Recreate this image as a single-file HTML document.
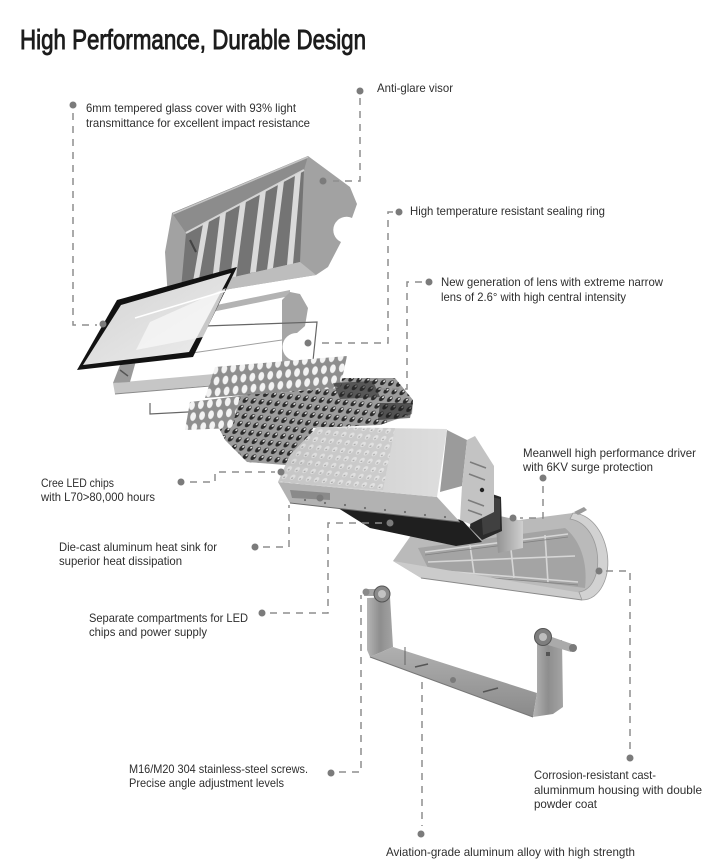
<!DOCTYPE html>
<html><head><meta charset="utf-8"><style>
html,body{margin:0;padding:0;background:#fff;}
svg{display:block;}
.t{font-family:"Liberation Sans",sans-serif;fill:#2e2e2e;font-size:12px;}
</style></head><body>
<svg width="714" height="864" viewBox="0 0 714 864" xmlns="http://www.w3.org/2000/svg">
<defs>
 <pattern id="ovals" width="9" height="11" patternUnits="userSpaceOnUse" patternTransform="rotate(-6)">
   <rect width="9" height="11" fill="#8e8e8e"/>
   <ellipse cx="4.5" cy="5.5" rx="2.8" ry="4.4" fill="#f3f3f3" transform="rotate(20 4.5 5.5)"/>
 </pattern>
 <pattern id="leds" width="8" height="8" patternUnits="userSpaceOnUse" patternTransform="rotate(6) skewX(-25)">
   <rect width="8" height="8" fill="#9c9c9c"/>
   <ellipse cx="3.5" cy="4.2" rx="2.4" ry="3" fill="#2a2a2a"/>
   <ellipse cx="4" cy="3" rx="1" ry="1.1" fill="#e6e6e6"/>
 </pattern>
 <pattern id="clear" width="8" height="8" patternUnits="userSpaceOnUse" patternTransform="rotate(6) skewX(-25)">
   <rect width="8" height="8" fill="#c4c4c4"/>
   <ellipse cx="4" cy="4" rx="2.3" ry="2.8" fill="#ececec"/>
   <circle cx="4" cy="5" r="0.9" fill="#8a8a8a"/>
 </pattern>
 <linearGradient id="glassG" x1="0" y1="0" x2="1" y2="1">
   <stop offset="0" stop-color="#d2d2d2"/><stop offset="1" stop-color="#eeeeee"/>
 </linearGradient>
 <linearGradient id="pcbG" x1="0" y1="0" x2="1" y2="0">
   <stop offset="0" stop-color="#c6c6c6"/><stop offset="1" stop-color="#dcdcdc"/>
 </linearGradient>
 <linearGradient id="armG" x1="0" y1="0" x2="1" y2="0">
   <stop offset="0" stop-color="#b5b5b5"/><stop offset="0.5" stop-color="#8e8e8e"/><stop offset="1" stop-color="#a4a4a4"/>
 </linearGradient>
 <linearGradient id="barG" x1="0" y1="0" x2="0" y2="1">
   <stop offset="0" stop-color="#b0b0b0"/><stop offset="1" stop-color="#8a8a8a"/>
 </linearGradient>
 <linearGradient id="cylG" x1="0" y1="0" x2="1" y2="0">
   <stop offset="0" stop-color="#8f8f8f"/><stop offset="1" stop-color="#cfcfcf"/>
 </linearGradient>
</defs>

<!-- Title -->
<text x="20" y="49" font-family="Liberation Sans, sans-serif" font-size="28" fill="#1c1c1c" stroke="#1c1c1c" stroke-width="0.9" textLength="346" lengthAdjust="spacingAndGlyphs">High Performance, Durable Design</text>

<!-- ===== VISOR ===== -->
<path d="M172,213 L308,156 L350,187 L357,204 L352,218 A13,13 0 0 0 341,242 L328,267 L316,275 L168,299 L165,252 Z" fill="#a2a2a2"/>
<polygon points="172,213 308,156 304,170 186,233" fill="#8c8c8c"/>
<line x1="173" y1="214" x2="308" y2="157" stroke="#c4c4c4" stroke-width="1.5"/>
<polygon points="186,233 304,170 300,262 181,289" fill="#747474"/>
<line x1="186" y1="233" x2="304" y2="170" stroke="#d4d4d4" stroke-width="2"/>
<g fill="#dadada">
 <polygon points="203,224 209,221 198,285 192,287"/>
 <polygon points="220,215 226,212 218,281 212,282"/>
 <polygon points="240,204 246,201 236,277 230,278"/>
 <polygon points="260,193 266,190 256,272 250,273"/>
 <polygon points="278,184 284,181 273,268 267,270"/>
 <polygon points="295,175 301,172 293,264 287,265"/>
</g>
<polygon points="181,289 300,262 316,275 168,299" fill="#bdbdbd"/>
<line x1="190" y1="240" x2="196" y2="252" stroke="#444" stroke-width="2"/>

<!-- ===== LOWER FRAME BOX ===== -->
<polygon points="207,307 290,290 290,296 207,313" fill="#b3b3b3"/>
<path d="M290,292 L300,294 L308,308 L305,326 L297,333 A14,14 0 0 0 296,361 L300,371 L293,380 L282,372 L282,300 Z" fill="#a6a6a6"/>
<line x1="192" y1="353" x2="282" y2="340" stroke="#a0a0a0" stroke-width="1"/>
<polygon points="113,383 282,368 293,378 115,394" fill="#c6c6c6"/>
<line x1="115" y1="394" x2="293" y2="379" stroke="#8a8a8a" stroke-width="1"/>
<polygon points="113,383 122,360 136,361 130,382" fill="#9a9a9a"/>
<line x1="120" y1="370" x2="128" y2="376" stroke="#555" stroke-width="1.5"/>

<!-- gasket -->
<path d="M205,326 L317,322 L311,380" fill="none" stroke="#666" stroke-width="1.2"/>
<path d="M150,403 L150,414 L226,410" fill="none" stroke="#666" stroke-width="1.2"/>

<!-- ===== GLASS ===== -->
<polygon points="117,300 237,267 193,357 77,370" fill="#121212"/>
<polygon points="121,305 231,273 189,352 83,365" fill="url(#glassG)"/>
<polygon points="150,322 226,288 203,337 136,350" fill="#f6f6f6" opacity="0.8"/>
<line x1="135" y1="318" x2="225" y2="291" stroke="#ffffff" stroke-width="1.5"/>

<!-- ===== LED / LENS ARRAYS ===== -->
<polygon points="225,398 300,386 345,378 395,378 413,400 412,414 380,425 313,428 310,467 247,462 225,440 215,420" fill="url(#leds)"/>
<polygon points="215,367 347,356 340,388 205,398" fill="url(#ovals)"/>
<polygon points="190,402 240,396 232,428 185,430" fill="url(#ovals)"/>
<polygon points="333,383 373,381 380,397 340,399" fill="#2a2a2a" opacity="0.6"/>
<polygon points="380,403 413,403 410,418 378,420" fill="#222" opacity="0.6"/>

<!-- ===== HOUSING (driver compartment) ===== -->
<path d="M393,561 L412,534 L573,513 C590,514 603,530 607,552 C611,577 600,600 582,600 L421,578 Z" fill="#bababa"/>
<path d="M418,548 L565,528 C580,540 588,562 585,588 L428,568 Z" fill="#a4a4a4"/>
<g stroke="#d6d6d6" stroke-width="1.6" fill="none">
 <path d="M425,552 L568,534"/>
 <path d="M428,562 L575,556"/>
 <path d="M430,570 L578,582"/>
 <path d="M470,545 L474,573"/>
 <path d="M510,540 L514,578"/>
 <path d="M545,535 L548,583"/>
</g>
<g stroke="#828282" stroke-width="0.8" fill="none">
 <path d="M425,555 L568,537"/>
 <path d="M430,573 L578,585"/>
</g>
<polygon points="393,561 582,593 582,600 421,578" fill="#cbcbcb"/>
<line x1="421" y1="578" x2="582" y2="600" stroke="#8a8a8a" stroke-width="1"/>
<path d="M573,513 C590,514 603,530 607,552 C611,577 600,600 582,600 L579,592 C593,590 600,572 597,552 C594,533 583,521 570,519 Z" fill="#d2d2d2" stroke="#9a9a9a" stroke-width="0.8"/>
<path d="M574,512 L584,507 L587,510 L578,515 Z" fill="#9a9a9a"/>

<!-- driver cylinder -->
<polygon points="495,515 523,521 523,548 498,553" fill="url(#cylG)"/>

<!-- heat sink dark underside -->
<polygon points="330,503 462,520 482,542 456,546 370,528" fill="#1f1f1f"/>
<!-- driver black box -->
<polygon points="472,494 480,490 501,497 502,531 482,540 470,528" fill="#2a2a2a"/>
<polygon points="480,494 500,499 500,529 483,535" fill="#404040"/>

<!-- heat sink slab -->
<polygon points="278,482 437,497 460,522 290,503" fill="#b2b2b2"/>
<polygon points="290,490 330,493 330,500 292,498" fill="#8a8a8a"/>
<line x1="290" y1="503" x2="460" y2="522" stroke="#6a6a6a" stroke-width="1"/>
<g fill="#6e6e6e">
 <circle cx="305" cy="500" r="1.1"/><circle cx="325" cy="503" r="1.1"/><circle cx="345" cy="505" r="1.1"/>
 <circle cx="365" cy="508" r="1.1"/><circle cx="385" cy="510" r="1.1"/><circle cx="405" cy="512" r="1.1"/>
 <circle cx="425" cy="515" r="1.1"/><circle cx="445" cy="517" r="1.1"/>
</g>
<!-- heat sink end -->
<polygon points="447,430 467,440 462,486 440,492" fill="#9b9b9b"/>
<polygon points="467,440 475,436 494,466 494,512 470,524 460,520 462,486" fill="#c3c3c3"/>
<g stroke="#7c7c7c" stroke-width="1.5">
 <line x1="470" y1="462" x2="486" y2="468"/>
 <line x1="469" y1="474" x2="485" y2="480"/>
 <line x1="468" y1="500" x2="484" y2="506"/>
 <line x1="468" y1="510" x2="482" y2="515"/>
</g>
<circle cx="482" cy="490" r="2.2" fill="#222"/>

<!-- PCB plate -->
<polygon points="317,427 447,429 437,497 278,482 290,455" fill="url(#pcbG)" opacity="0.95"/>
<polygon points="317,427 395,428 383,490 278,482 290,455" fill="url(#clear)" opacity="0.55"/>

<!-- ===== BRACKET ===== -->
<polygon points="367,598 390,597 393,647 370,657 367,650" fill="url(#armG)"/>
<polygon points="370,657 393,647 537,693 533,717" fill="url(#barG)"/>
<polygon points="537,640 562,640 563,707 553,714 533,717 537,693" fill="url(#armG)"/>
<line x1="370" y1="657" x2="533" y2="717" stroke="#777" stroke-width="1"/>
<line x1="405" y1="647" x2="405" y2="665" stroke="#666" stroke-width="1"/>
<line x1="415" y1="667" x2="428" y2="664" stroke="#555" stroke-width="1.6"/>
<line x1="483" y1="692" x2="498" y2="688" stroke="#555" stroke-width="1.6"/>
<circle cx="453" cy="680" r="3" fill="#7a7a7a"/>
<!-- screws -->
<rect x="364" y="589" width="14" height="7" fill="#a5a5a5"/>
<circle cx="366" cy="592" r="3.5" fill="#8a8a8a"/>
<circle cx="382" cy="594" r="8" fill="#8a8a8a" stroke="#555" stroke-width="1"/>
<circle cx="382" cy="594" r="4" fill="#c2c2c2"/>
<polygon points="549,636 572,644 571,652 548,645" fill="#aaaaaa"/>
<circle cx="573" cy="648" r="4" fill="#7a7a7a"/>
<circle cx="543" cy="637" r="8.5" fill="#7e7e7e" stroke="#555" stroke-width="1"/>
<circle cx="543" cy="637" r="4" fill="#bdbdbd"/>
<rect x="546" y="652" width="4" height="4" fill="#555"/>

<!-- ===== LEADER LINES ===== -->
<g fill="none" stroke="#8e8e8e" stroke-width="1.5" stroke-dasharray="7 6">
 <path d="M73,113 V325 H97"/>
 <path d="M360,98 V181 H333"/>
 <path d="M393,212 H388 V343 H318"/>
 <path d="M422,282 H407 V389 H377"/>
 <path d="M543,486 V518 H520"/>
 <path d="M190,482 H215 V472 H275"/>
 <path d="M263,547 H289 V505"/>
 <path d="M270,613 H328 V523 H383"/>
 <path d="M339,772 H361 V595"/>
 <path d="M606,571 H630 V750"/>
 <path d="M422,682 V826"/>
</g>
<g fill="#7b7b7b">
 <circle cx="73" cy="105" r="3.5"/><circle cx="103" cy="324" r="3.5"/>
 <circle cx="360" cy="91" r="3.5"/><circle cx="323" cy="181" r="3.5"/>
 <circle cx="399" cy="212" r="3.5"/><circle cx="308" cy="343" r="3.5"/>
 <circle cx="429" cy="282" r="3.5"/>
 <circle cx="543" cy="478" r="3.5"/><circle cx="513" cy="518" r="3.5"/>
 <circle cx="181" cy="482" r="3.5"/><circle cx="281" cy="472" r="3.5"/>
 <circle cx="255" cy="547" r="3.5"/><circle cx="320" cy="498" r="3.5"/>
 <circle cx="262" cy="613" r="3.5"/><circle cx="390" cy="523" r="3.5"/>
 <circle cx="331" cy="773" r="3.5"/>
 <circle cx="599" cy="571" r="3.5"/><circle cx="630" cy="758" r="3.5"/>
 <circle cx="421" cy="834" r="3.5"/>
</g>

<!-- ===== LABELS ===== -->
<text class="t" x="377" y="92" textLength="76" lengthAdjust="spacingAndGlyphs">Anti-glare visor</text>
<text class="t" x="86" y="112" textLength="210" lengthAdjust="spacingAndGlyphs">6mm tempered glass cover with 93% light</text>
<text class="t" x="86" y="127" textLength="224" lengthAdjust="spacingAndGlyphs">transmittance for excellent impact resistance</text>
<text class="t" x="410" y="215" textLength="195" lengthAdjust="spacingAndGlyphs">High temperature resistant sealing ring</text>
<text class="t" x="441" y="286" textLength="222" lengthAdjust="spacingAndGlyphs">New generation of lens with extreme narrow</text>
<text class="t" x="441" y="301" textLength="185" lengthAdjust="spacingAndGlyphs">lens of 2.6° with high central intensity</text>
<text class="t" x="523" y="457" textLength="173" lengthAdjust="spacingAndGlyphs">Meanwell high performance driver</text>
<text class="t" x="523" y="471" textLength="130" lengthAdjust="spacingAndGlyphs">with 6KV surge protection</text>
<text class="t" x="41" y="487" textLength="73" lengthAdjust="spacingAndGlyphs">Cree LED chips</text>
<text class="t" x="41" y="501" textLength="114" lengthAdjust="spacingAndGlyphs">with L70&gt;80,000 hours</text>
<text class="t" x="59" y="551" textLength="158" lengthAdjust="spacingAndGlyphs">Die-cast aluminum heat sink for</text>
<text class="t" x="59" y="565" textLength="123" lengthAdjust="spacingAndGlyphs">superior heat dissipation</text>
<text class="t" x="89" y="622" textLength="159" lengthAdjust="spacingAndGlyphs">Separate compartments for LED</text>
<text class="t" x="89" y="636" textLength="118" lengthAdjust="spacingAndGlyphs">chips and power supply</text>
<text class="t" x="129" y="773" textLength="179" lengthAdjust="spacingAndGlyphs">M16/M20 304 stainless-steel screws.</text>
<text class="t" x="129" y="787" textLength="155" lengthAdjust="spacingAndGlyphs">Precise angle adjustment levels</text>
<text class="t" x="534" y="779" textLength="122" lengthAdjust="spacingAndGlyphs">Corrosion-resistant cast-</text>
<text class="t" x="534" y="794" textLength="168" lengthAdjust="spacingAndGlyphs">aluminmum housing with double</text>
<text class="t" x="534" y="808" textLength="63" lengthAdjust="spacingAndGlyphs">powder coat</text>
<text class="t" x="386" y="856" textLength="249" lengthAdjust="spacingAndGlyphs">Aviation-grade aluminum alloy with high strength</text>
</svg>
</body></html>
